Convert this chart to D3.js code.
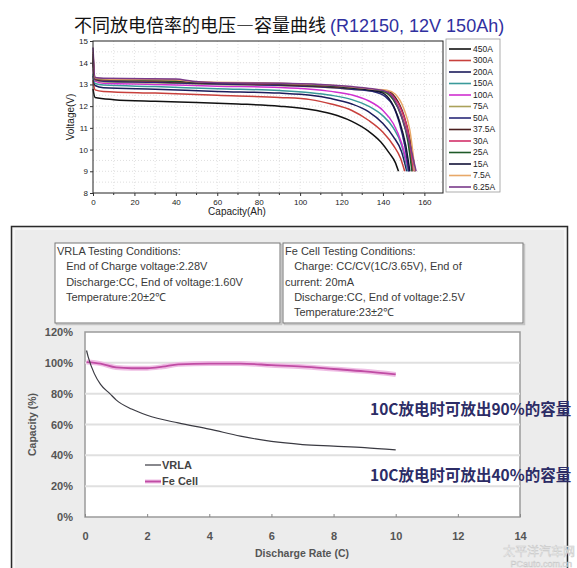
<!DOCTYPE html>
<meta charset="utf-8">
<html lang="zh">
<head>
<title>不同放电倍率的电压—容量曲线</title>
<script src="https://d3js.org/d3.v7.min.js"></script>
<style>
  body { margin: 0; background: #fff; }
  svg { display: block; }
  .lat { font-family: "Liberation Sans", Arial, sans-serif; }
  .cjk { font-family: "Noto Sans CJK SC", sans-serif; }
  .top-axis path { display: none; }
  .top-axis line { stroke: #333; }
  .top-axis text { font: 8px "Liberation Sans", Arial, sans-serif; fill: #222; }
  .bot-axis path { display: none; }
  .bot-axis line { stroke: #888; }
  .bot-axis text { font: bold 11px "Liberation Sans", Arial, sans-serif; fill: #555; }
  .cond { font: 11px "Liberation Sans", Arial, sans-serif; fill: #3a3a3a; }
</style>
</head>
<body>
<svg width="577" height="568"></svg>
<script>
// ---- top chart data: capacity (Ah) vs voltage (V) per discharge current
var currents = ["450A", "300A", "200A", "150A", "100A", "75A", "50A", "37.5A", "30A", "25A", "15A", "7.5A", "6.25A"];
var currentColors = ["#111111", "#c8403c", "#1c1c5c", "#3a9a9a", "#d030d0", "#aaa25a", "#2a2a78", "#4a1e1e", "#d2306a", "#1e5a28", "#121238", "#e8a868", "#7a3a8a"];

var c450 = [[0,12.8],[1,12.4],[10,12.3],[30,12.22],[50,12.17],[70,12.1],[90,12.0],[105,11.85],[115,11.65],[125,11.3],[133,10.85],[139,10.35],[143,9.85],[146,9.4],[147.5,9.0]];
var c300 = [[0,13.2],[1,12.75],[5,12.68],[30,12.6],[60,12.5],[90,12.4],[105,12.3],[115,12.1],[125,11.8],[133,11.35],[140,10.8],[145,10.2],[148.5,9.6],[150.5,9.0]];
var c200 = [[0,13.4],[1,12.95],[5,12.85],[30,12.78],[60,12.68],[90,12.6],[105,12.5],[115,12.35],[125,12.1],[133,11.75],[140,11.2],[145,10.6],[149,9.9],[151.5,9.0]];
var c150 = [[0,13.5],[1,13.05],[5,12.97],[30,12.9],[60,12.8],[90,12.72],[105,12.62],[115,12.5],[125,12.3],[133,12.0],[140,11.55],[145,11.0],[149,10.2],[152,9.0]];
var c100 = [[0,13.7],[1,13.15],[5,13.05],[30,13.0],[60,12.92],[90,12.86],[105,12.78],[115,12.68],[125,12.52],[133,12.25],[140,11.8],[145,11.2],[149,10.3],[152.5,9.0]];
var c75 = [[0,13.9],[1,13.2],[5,13.12],[30,13.08],[60,13.0],[90,12.95],[110,12.88],[125,12.78],[135,12.7],[141,12.62],[145,12.3],[149,11.6],[152,10.6],[154.5,9.0]];
var c50 = [[0,14.0],[1,13.22],[5,13.15],[30,13.1],[60,13.02],[90,12.96],[110,12.88],[125,12.78],[135,12.68],[141,12.45],[145,12.0],[148,11.2],[150.5,10.2],[152.5,9.0]];
var c37 = [[0,14.1],[1,13.25],[5,13.2],[30,13.15],[50,13.08],[90,13.0],[110,12.92],[125,12.83],[135,12.75],[142,12.7],[146,12.4],[150,11.6],[153,10.5],[155.5,9.0]];
var c30 = [[0,14.2],[1,13.27],[5,13.22],[30,13.17],[50,13.1],[90,13.02],[110,12.95],[125,12.85],[135,12.76],[141,12.7],[145,12.45],[149,11.8],[152.5,10.6],[154.5,9.0]];
var c25 = [[0,14.3],[1,13.28],[5,13.23],[30,13.18],[50,13.1],[90,13.03],[110,12.95],[125,12.84],[135,12.74],[141,12.65],[145,12.3],[149,11.5],[152,10.4],[154,9.0]];
var c15 = [[0,14.4],[1,13.3],[5,13.26],[35,13.22],[45,13.15],[55,13.08],[90,13.04],[110,12.97],[125,12.85],[135,12.72],[140,12.6],[144,12.2],[148,11.3],[151,10.2],[153,9.0]];
var c7 = [[0,14.5],[1,13.3],[5,13.25],[40,13.2],[50,13.12],[90,13.06],[110,12.98],[125,12.88],[135,12.78],[142,12.73],[146,12.55],[150,11.9],[153,10.9],[155.5,9.0]];
var c6 = [[0,14.7],[1,13.32],[5,13.28],[40,13.25],[48,13.15],[60,13.08],[90,13.06],[110,13.0],[125,12.9],[135,12.8],[140,12.72],[144,12.5],[148,11.8],[152,10.6],[156,9.0]];
var voltCurves = [c450, c300, c200, c150, c100, c75, c50, c37, c30, c25, c15, c7, c6];

var voltTicks = [8, 9, 10, 11, 12, 13, 14, 15];
var capTicks = [0, 20, 40, 60, 80, 100, 120, 140, 160];

// ---- bottom chart data: discharge rate (C) vs capacity (%)
var rateTicks = [0, 2, 4, 6, 8, 10, 12, 14];
var pctTicks = [0, 20, 40, 60, 80, 100, 120];
var vrla = [[0.05,108],[0.1,104],[0.3,93],[0.5,86],[0.8,80],[1,76],[1.5,70],[2,66],[3,61],[4,57],[5,52.5],[6,49],[7,47],[8,46],[9,45],[10,43.5]];
var feCell = [[0.05,100.5],[0.5,99.5],[1,97],[1.5,96.5],[2,96.5],[2.5,97.5],[3,99],[4,99.5],[5,99.5],[6,98.5],[7,97.5],[8,96],[9,94.5],[10,92.5]];
var seriesNames = ["VRLA", "Fe Cell"];

var vrlaText = ["VRLA Testing Conditions:", "   End of Charge voltage:2.28V", "   Discharge:CC, End of voltage:1.60V", "   Temperature:20±2℃"];
var feText = ["Fe Cell Testing Conditions:", "   Charge: CC/CV(1C/3.65V), End of", "current: 20mA", "   Discharge:CC, End of voltage:2.5V", "   Temperature:23±2℃"];
var notes = ["10C放电时可放出90%的容量", "10C放电时可放出40%的容量"];

var svg = d3.select("svg");

// ================= title =================
var title = svg.append("text").attr("x", 74).attr("y", 32).style("font-size", "18px");
title.append("tspan").attr("class", "cjk").attr("fill", "#111").text("不同放电倍率的电压—容量曲线 ");
title.append("tspan").attr("class", "lat").attr("fill", "#3030a0").text("(R12150, 12V 150Ah)");

// ================= top chart =================
var tp = {left: 93, right: 443, top: 41, bottom: 193};
var x = d3.scaleLinear().domain([0, 169]).range([tp.left, tp.right]);
var y = d3.scaleLinear().domain([8, 15]).range([tp.bottom, tp.top]);

var topG = svg.append("g");
topG.append("rect").attr("x", tp.left).attr("y", tp.top)
  .attr("width", tp.right - tp.left).attr("height", tp.bottom - tp.top).attr("fill", "#fff");

// dotted grid
topG.append("g").selectAll("line").data(d3.range(8.5, 15, 0.5))
  .join("line")
  .attr("x1", tp.left).attr("x2", tp.right)
  .attr("y1", d => y(d)).attr("y2", d => y(d))
  .attr("stroke", "#c8c8c8").attr("stroke-width", 0.6).attr("stroke-dasharray", "1,2");
topG.append("g").selectAll("line").data(d3.range(10, 169, 10))
  .join("line")
  .attr("x1", d => x(d)).attr("x2", d => x(d))
  .attr("y1", tp.top).attr("y2", tp.bottom)
  .attr("stroke", "#d0d0d0").attr("stroke-width", 0.6).attr("stroke-dasharray", "1,2");

var line = d3.line().x(d => x(d[0])).y(d => y(d[1])).curve(d3.curveMonotoneX);
topG.append("g").selectAll("path").data(voltCurves)
  .join("path")
  .attr("d", line)
  .attr("fill", "none")
  .attr("stroke", (d, i) => currentColors[i])
  .attr("stroke-width", 1.5);

topG.append("rect").attr("x", tp.left).attr("y", tp.top)
  .attr("width", tp.right - tp.left).attr("height", tp.bottom - tp.top)
  .attr("fill", "none").attr("stroke", "#222").attr("stroke-width", 1);

topG.append("g").attr("class", "top-axis")
  .attr("transform", "translate(" + tp.left + ",0)")
  .call(d3.axisLeft(y).tickValues(voltTicks).tickFormat(d3.format("d")).tickSize(3).tickPadding(2));
topG.append("g").attr("class", "top-axis")
  .attr("transform", "translate(0," + tp.bottom + ")")
  .call(d3.axisBottom(x).tickValues(capTicks).tickSize(3).tickPadding(3));
// minor ticks
topG.append("g").selectAll("line").data(d3.range(10, 169, 20))
  .join("line")
  .attr("x1", d => x(d)).attr("x2", d => x(d))
  .attr("y1", tp.bottom).attr("y2", tp.bottom + 2)
  .attr("stroke", "#333");

topG.append("text").attr("class", "lat")
  .attr("x", 237).attr("y", 215).attr("text-anchor", "middle")
  .style("font-size", "10px").attr("fill", "#222").text("Capacity(Ah)");
topG.append("text").attr("class", "lat")
  .attr("transform", "translate(74," + (tp.top + tp.bottom) / 2 + ") rotate(-90)")
  .attr("text-anchor", "middle")
  .style("font-size", "10px").attr("fill", "#222").text("Voltage(V)");

// legend
var lg = topG.append("g");
lg.append("rect").attr("x", 446).attr("y", 39).attr("width", 54).attr("height", 153)
  .attr("fill", "#fff").attr("stroke", "#999").attr("stroke-width", 0.8);
var item = lg.selectAll("g").data(currents).join("g")
  .attr("transform", (d, i) => "translate(0," + (49 + i * 11.5) + ")");
item.append("line").attr("x1", 449).attr("x2", 471)
  .attr("stroke", (d, i) => currentColors[i]).attr("stroke-width", 1.6);
item.append("text").attr("class", "lat").attr("x", 473).attr("dy", "0.35em")
  .style("font-size", "8.5px").attr("fill", "#222").text(d => d);

// ================= bottom panel =================
var panel = svg.append("g");
panel.append("rect").attr("x", 11.5).attr("y", 226.5).attr("width", 556).attr("height", 350)
  .attr("fill", "#ececec").attr("stroke", "#2a2a2a").attr("stroke-width", 1.5);
panel.append("rect").attr("x", 14).attr("y", 229).attr("width", 551).attr("height", 345)
  .attr("fill", "none").attr("stroke", "#f6f6f6").attr("stroke-width", 2);

function condBox(x0, x1, lines) {
  panel.append("rect").attr("x", x0 + 1.5).attr("y", 244.5).attr("width", x1 - x0).attr("height", 80)
    .attr("fill", "none").attr("stroke", "#c4c4c4").attr("stroke-width", 1.5);
  panel.append("rect").attr("x", x0).attr("y", 243).attr("width", x1 - x0).attr("height", 80)
    .attr("fill", "#fff").attr("stroke", "#777").attr("stroke-width", 1);
  panel.append("text").attr("class", "cond").attr("xml:space", "preserve")
    .selectAll("tspan").data(lines).join("tspan")
    .attr("x", x0 + 2).attr("y", (d, i) => 255 + i * 15.3)
    .text(d => d);
}
condBox(55, 280, vrlaText);
condBox(283, 523, feText);

var bp = {left: 85, right: 520, top: 332, bottom: 517};
var xr = d3.scaleLinear().domain([0, 14]).range([bp.left, bp.right]);
var yp = d3.scaleLinear().domain([0, 120]).range([bp.bottom, bp.top]);

panel.append("rect").attr("x", bp.left).attr("y", bp.top)
  .attr("width", bp.right - bp.left).attr("height", bp.bottom - bp.top)
  .attr("fill", "#fff").attr("stroke", "#9a9a9a").attr("stroke-width", 1.5);

panel.append("g").selectAll("line").data(pctTicks.slice(1, -1))
  .join("line")
  .attr("x1", bp.left).attr("x2", bp.right)
  .attr("y1", d => yp(d)).attr("y2", d => yp(d))
  .attr("stroke", "#e0e0e0").attr("stroke-width", 2);

panel.append("g").attr("class", "bot-axis")
  .attr("transform", "translate(" + (bp.left - 6) + ",0)")
  .call(d3.axisLeft(yp).tickValues(pctTicks).tickFormat(d => d + "%").tickSize(0).tickPadding(6));
var xa = panel.append("g").attr("class", "bot-axis")
  .attr("transform", "translate(0," + bp.bottom + ")")
  .call(d3.axisBottom(xr).tickValues(rateTicks).tickSize(-3).tickPadding(15));
xa.selectAll("line").attr("stroke", "#aaa");

panel.append("text").attr("class", "lat")
  .attr("x", 302).attr("y", 557).attr("text-anchor", "middle")
  .style("font-size", "10.5px").style("font-weight", "bold").attr("fill", "#555")
  .text("Discharge Rate (C)");
panel.append("text").attr("class", "lat")
  .attr("transform", "translate(36," + (bp.top + bp.bottom) / 2 + ") rotate(-90)")
  .attr("text-anchor", "middle")
  .style("font-size", "10.5px").style("font-weight", "bold").attr("fill", "#555")
  .text("Capacity (%)");

var line2 = d3.line().x(d => xr(d[0])).y(d => yp(d[1])).curve(d3.curveMonotoneX);
panel.append("path").attr("d", line2(feCell)).attr("fill", "none")
  .attr("stroke", "#efbde4").attr("stroke-width", 5);
panel.append("path").attr("d", line2(feCell)).attr("fill", "none")
  .attr("stroke", "#c04ca4").attr("stroke-width", 1.8);
panel.append("path").attr("d", line2(vrla)).attr("fill", "none")
  .attr("stroke", "#3a3a42").attr("stroke-width", 1.2);

// inner legend
var lg2 = panel.selectAll("g.lg2").data(seriesNames).join("g")
  .attr("class", "lg2")
  .attr("transform", (d, i) => "translate(0," + (465 + i * 16.5) + ")");
lg2.filter((d, i) => i === 1).append("line").attr("x1", 145).attr("x2", 161)
  .attr("stroke", "#efbde4").attr("stroke-width", 4);
lg2.append("line").attr("x1", 145).attr("x2", 161)
  .attr("stroke", (d, i) => i ? "#c04ca4" : "#3a3a42").attr("stroke-width", (d, i) => i ? 1.8 : 1.2);
lg2.append("text").attr("class", "lat").attr("x", 162).attr("dy", "0.35em")
  .style("font-size", "11px").style("font-weight", "bold").attr("fill", "#444")
  .text(d => d);

// annotations
panel.selectAll("text.note").data(notes).join("text")
  .attr("class", "note cjk")
  .attr("x", 370).attr("y", (d, i) => i ? 481 : 415)
  .style("font-size", "15.5px").style("font-weight", "bold").attr("fill", "#2c2c66")
  .text(d => d);

// watermark
panel.append("text").attr("class", "cjk").attr("x", 575).attr("y", 556).attr("text-anchor", "end")
  .style("font-size", "12px").attr("fill", "#fafafa").attr("stroke", "#c8c8c8").attr("stroke-width", 0.5)
  .text("太平洋汽车网");
panel.append("text").attr("class", "lat").attr("x", 572).attr("y", 567).attr("text-anchor", "end")
  .style("font-size", "9px").attr("fill", "#fafafa").attr("stroke", "#c8c8c8").attr("stroke-width", 0.5)
  .text("PCauto.com.cn");
</script>
</body>
</html>
